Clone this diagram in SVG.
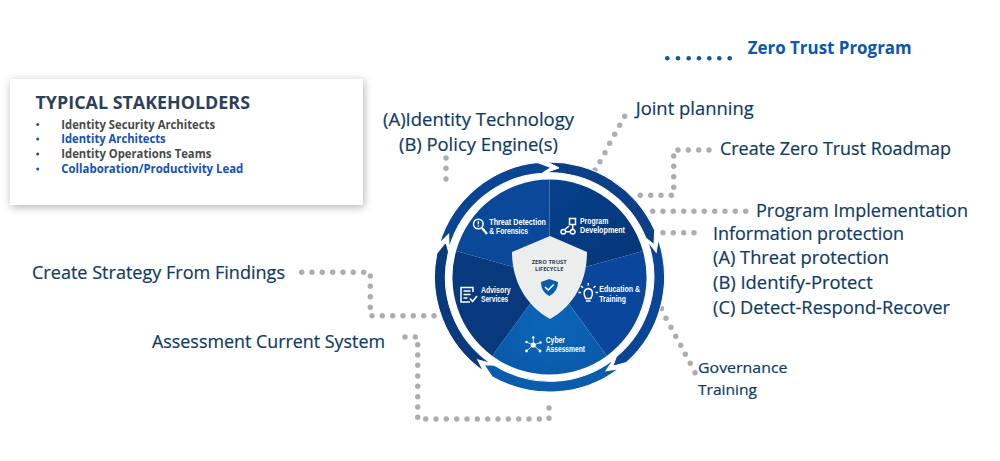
<svg xmlns="http://www.w3.org/2000/svg" width="1000" height="461" viewBox="0 0 1000 461">
<defs>
<filter id="sh" x="-5%" y="-15%" width="110%" height="130%"><feDropShadow dx="1" dy="2" stdDeviation="4" flood-color="#000" flood-opacity="0.3"/></filter>
<path id="seg" d="M-2-115L9.500-109.100L-3.600-104.400A104 104 0 0 1 96.400-39L104.500-32.500L105.100-46.800A115 115 0 0 0-2-115Z"/>
<radialGradient id="cy" gradientUnits="userSpaceOnUse" cx="549.500" cy="320" r="60"><stop offset="0" stop-color="#0b66b8"/><stop offset="1" stop-color="#0a5aab"/></radialGradient>
<linearGradient id="pg" x1="0" y1="0" x2="1" y2="1"><stop offset="0" stop-color="#06418c"/><stop offset="1" stop-color="#043574"/></linearGradient>
</defs>
<style>
text{font-family:"Open Sans","Noto Sans","Liberation Sans",sans-serif}
.l{font-size:18.5px;fill:#0f3a63;stroke:#0f3a63;stroke-width:.2px}
.d circle{fill:#adadb0;r:2.7px}
.b circle{fill:#0f57ad;r:2.3px}
.g{font-size:11.5px;font-weight:700;fill:#4a4a4a}
.h{font-size:11.5px;font-weight:700;fill:#1450b8}
.n{font-family:"Liberation Sans",sans-serif;font-size:9.5px;font-weight:700;fill:#fff}
.z{font-size:5.600px;font-weight:700;fill:#2c3e55}
.i{fill:none;stroke:#fff;stroke-width:1.500}
.s{stroke:#fff;stroke-width:1}
</style>
<rect width="1000" height="461" fill="#fff"/>

<g id="connectors">
<g id="c-legend" class="b"><circle cx="667.300" cy="58.300"/><circle cx="678" cy="58.300"/><circle cx="688.700" cy="58.300"/><circle cx="699" cy="58.300"/><circle cx="709.300" cy="58.300"/><circle cx="719.300" cy="58.300"/><circle cx="729.700" cy="58.300"/></g>
<g id="c-identity" class="d"><circle cx="446" cy="158"/><circle cx="446" cy="168.300"/><circle cx="446" cy="179"/></g>
<g id="c-joint" class="d"><circle cx="624.700" cy="116.300"/><circle cx="619.700" cy="125.300"/><circle cx="614.700" cy="134.300"/><circle cx="609.700" cy="143.300"/><circle cx="605" cy="152.700"/><circle cx="600" cy="161.700"/><circle cx="595" cy="170"/></g>
<g id="c-roadmap" class="d"><circle cx="709" cy="150"/><circle cx="698.700" cy="150"/><circle cx="688.300" cy="150"/><circle cx="678" cy="150"/><circle cx="673.700" cy="156"/><circle cx="673.700" cy="166.300"/><circle cx="673.700" cy="176.700"/><circle cx="673.700" cy="187.300"/><circle cx="671.300" cy="195.300"/><circle cx="661" cy="195.300"/><circle cx="650.700" cy="195.300"/><circle cx="640.300" cy="195.300"/></g>
<g id="c-implementation" class="d"><circle cx="652.700" cy="211.300"/><circle cx="663" cy="211.300"/><circle cx="673.300" cy="211.300"/><circle cx="683.700" cy="211.300"/><circle cx="694" cy="211.300"/><circle cx="704.300" cy="211.300"/><circle cx="714.700" cy="211.300"/><circle cx="725" cy="211.300"/><circle cx="735.300" cy="211.300"/><circle cx="745.700" cy="211.300"/></g>
<g id="c-information" class="d"><circle cx="663" cy="232.700"/><circle cx="673.300" cy="232.700"/><circle cx="683.700" cy="232.700"/><circle cx="694" cy="232.700"/></g>
<g id="c-governance" class="d"><circle cx="661.500" cy="308.500"/><circle cx="666" cy="318.200"/><circle cx="671" cy="327.200"/><circle cx="675.700" cy="336.200"/><circle cx="680.700" cy="345.300"/><circle cx="685.300" cy="354.300"/><circle cx="690.300" cy="363.300"/><circle cx="695" cy="372.700"/></g>
<g id="c-strategy" class="d"><circle cx="301.700" cy="272.300"/><circle cx="312" cy="272.300"/><circle cx="322.300" cy="272.300"/><circle cx="332.700" cy="272.300"/><circle cx="343" cy="272.300"/><circle cx="353.300" cy="272.300"/><circle cx="363.700" cy="272.300"/><circle cx="370.300" cy="276"/><circle cx="370.300" cy="286.300"/><circle cx="370.300" cy="296.700"/><circle cx="370.300" cy="307.300"/><circle cx="372" cy="315.700"/><circle cx="382.300" cy="315.700"/><circle cx="392.700" cy="315.700"/><circle cx="403" cy="315.700"/><circle cx="413.300" cy="315.700"/><circle cx="423.700" cy="315.700"/><circle cx="434" cy="315.700"/></g>
<g id="c-assessment" class="d"><circle cx="405" cy="337"/><circle cx="415.300" cy="337"/><circle cx="417.700" cy="344.700"/><circle cx="417.700" cy="355"/><circle cx="417.700" cy="365.300"/><circle cx="417.700" cy="376"/><circle cx="417.700" cy="386.300"/><circle cx="417.700" cy="396.700"/><circle cx="417.700" cy="407"/><circle cx="417.700" cy="417.300"/><circle cx="425.700" cy="419"/><circle cx="436" cy="419"/><circle cx="446.300" cy="419"/><circle cx="456.700" cy="419"/><circle cx="467" cy="419"/><circle cx="477.300" cy="419"/><circle cx="487.700" cy="419"/><circle cx="498" cy="419"/><circle cx="508.300" cy="419"/><circle cx="518.700" cy="419"/><circle cx="529" cy="419"/><circle cx="539.300" cy="419"/><circle cx="549" cy="418.300"/><circle cx="549" cy="408"/></g>
</g>

<g id="stakeholders">
<rect x="10" y="79" width="353" height="126" fill="#fff" filter="url(#sh)"/>
<text x="35.500" y="108.700" font-size="17.500" font-weight="700" fill="#2e3f58" textLength="214.500" lengthAdjust="spacingAndGlyphs">TYPICAL STAKEHOLDERS</text>
<circle cx="37.700" cy="124.500" r="1.500" fill="#4a4a4a"/><text class="g" x="61.300" y="128.700" textLength="153.700" lengthAdjust="spacingAndGlyphs">Identity Security Architects</text>
<circle cx="37.700" cy="139" r="1.500" fill="#1450b8"/><text class="h" x="61.300" y="143.300" textLength="104.400" lengthAdjust="spacingAndGlyphs">Identity Architects</text>
<circle cx="37.700" cy="154" r="1.500" fill="#4a4a4a"/><text class="g" x="61.300" y="158.300" textLength="150" lengthAdjust="spacingAndGlyphs">Identity Operations Teams</text>
<circle cx="37.700" cy="169" r="1.500" fill="#1450b8"/><text class="h" x="61.300" y="173.300" textLength="182" lengthAdjust="spacingAndGlyphs">Collaboration/Productivity Lead</text>
</g>

<g id="lifecycle">
<g id="ring" class="s">
<use href="#seg" transform="translate(549.500 277)" fill="#0c3f85"/>
<use href="#seg" transform="translate(549.500 277) rotate(72)" fill="#0a4598"/>
<use href="#seg" transform="translate(549.500 277) rotate(144)" fill="#0c5cae"/>
<use href="#seg" transform="translate(549.500 277) rotate(216)" fill="#0a3a7e"/>
<use href="#seg" transform="translate(549.500 277) rotate(288)" fill="#0a4595"/>
</g>
<g id="node-threat">
<path d="M549.500 277V179.500A97.500 97.500 0 0 0 456.100 251Z" fill="#0a4899"/>
<circle class="i" cx="478.300" cy="224" r="4.800"/><path d="M482 228l5 6" stroke="#fff" stroke-width="2.200" fill="none"/><path d="M478.300 221v3.500M478.300 225.500v1.200" stroke="#fff" stroke-width="1.200" fill="none"/>
<text class="n" x="489.300" y="225.300" textLength="56.700" lengthAdjust="spacingAndGlyphs">Threat Detection</text>
<text class="n" x="489.300" y="234.300" textLength="38.700" lengthAdjust="spacingAndGlyphs">&amp; Forensics</text>
</g>
<g id="node-program">
<path d="M549.500 277V179.500A97.500 97.500 0 0 1 642.900 251Z" fill="url(#pg)"/>
<path class="i" d="M569.500 218.500h6v6h-6zM572.700 224.500v5M565.500 231.700h5M569 226l-4 3.500"/><circle class="i" cx="563.300" cy="231.700" r="2.300"/><circle class="i" cx="572.700" cy="231.700" r="2.300"/>
<text class="n" x="580" y="224" textLength="28.300" lengthAdjust="spacingAndGlyphs">Program</text>
<text class="n" x="580" y="233" textLength="45" lengthAdjust="spacingAndGlyphs">Development</text>
</g>
<g id="node-education">
<path d="M549.500 277L642.900 251A97.500 97.500 0 0 1 606.800 355.900Z" fill="#0a479c"/>
<path class="i" d="M585.800 298.500C583 294 583.500 289 588.300 288.500C593 289 593.500 294 590.800 298.500ZM586 301h4.600M578.500 292.500h2.500M595.500 292.500h2.500M581 286l2 1.800M595.500 286l-2 1.800M588.300 283v2.500"/>
<text class="n" x="599.300" y="292.300" textLength="40.700" lengthAdjust="spacingAndGlyphs">Education &amp;</text>
<text class="n" x="599.300" y="301.700" textLength="26.700" lengthAdjust="spacingAndGlyphs">Training</text>
</g>
<g id="node-cyber">
<path d="M549.500 277L606.800 355.900A97.500 97.500 0 0 1 492.200 355.900Z" fill="url(#cy)"/>
<g fill="#fff"><circle cx="533.300" cy="345" r="2.600"/><circle cx="533.300" cy="337.500" r="1.200"/><circle cx="526.500" cy="342" r="1.200"/><circle cx="540.500" cy="342.500" r="1.200"/><circle cx="526.500" cy="351" r="1.400"/><circle cx="540" cy="351" r="1.400"/></g>
<path d="M533.300 345V337.500M533.300 345L526.500 342M533.300 345L540.500 342.500M533.300 345L526.500 351M533.300 345L540 351" stroke="#fff" stroke-width=".8" fill="none"/>
<text class="n" x="545.700" y="343.300" textLength="19.300" lengthAdjust="spacingAndGlyphs">Cyber</text>
<text class="n" x="545.700" y="352.300" textLength="39.300" lengthAdjust="spacingAndGlyphs">Assessment</text>
</g>
<g id="node-advisory">
<path d="M549.500 277L492.200 355.900A97.500 97.500 0 0 1 456.100 251Z" fill="#07397c"/>
<path class="i" d="M473 292V287.500H461V302H470M463.500 291h7M463.500 294.500h7M463.500 298h4M470 298.500l2.500 3 4.500-5.500"/>
<text class="n" x="481" y="293" textLength="29.700" lengthAdjust="spacingAndGlyphs">Advisory</text>
<text class="n" x="481" y="302" textLength="27.300" lengthAdjust="spacingAndGlyphs">Services</text>
</g>
<g id="node-shield">
<path d="M550 236L587 252C587 280 575 305 550 319C525 305 512 280 512 252Z" fill="#eceeee"/>
<text class="z" x="531.700" y="263.700" textLength="35" lengthAdjust="spacingAndGlyphs">ZERO TRUST</text>
<text class="z" x="535" y="271.300" textLength="28.300" lengthAdjust="spacingAndGlyphs">LIFECYCLE</text>
<path d="M549.300 279L558 282C558 288 555 293 549.300 296C543.500 293 541 288 541 282Z" fill="#0b5cad"/>
<path d="M545 287l3.200 3 5.500-5.500" fill="none" stroke="#fff" stroke-width="1.500"/>
</g>
</g>

<g id="labels">
<text x="747.700" y="54.300" font-size="18.500" font-weight="700" fill="#0e56ad" textLength="164" lengthAdjust="spacingAndGlyphs">Zero Trust Program</text>
<text class="l" x="383" y="126" textLength="191" lengthAdjust="spacingAndGlyphs">(A)Identity Technology</text>
<text class="l" x="399" y="151" textLength="159" lengthAdjust="spacingAndGlyphs">(B) Policy Engine(s)</text>
<text class="l" x="635.700" y="115" textLength="118" lengthAdjust="spacingAndGlyphs">Joint planning</text>
<text class="l" x="720" y="154.500" textLength="231" lengthAdjust="spacingAndGlyphs">Create Zero Trust Roadmap</text>
<text class="l" x="756" y="217.300" textLength="212" lengthAdjust="spacingAndGlyphs">Program Implementation</text>
<text class="l" x="713" y="239.700" textLength="191" lengthAdjust="spacingAndGlyphs">Information protection</text>
<text class="l" x="713" y="264" textLength="176" lengthAdjust="spacingAndGlyphs">(A) Threat protection</text>
<text class="l" x="713" y="288.700" textLength="159.700" lengthAdjust="spacingAndGlyphs">(B) Identify-Protect</text>
<text class="l" x="713" y="314" textLength="237" lengthAdjust="spacingAndGlyphs">(C) Detect-Respond-Recover</text>
<text class="l" x="698" y="372.700" style="font-size:15px" textLength="89.500" lengthAdjust="spacingAndGlyphs">Governance</text>
<text class="l" x="698" y="394.700" style="font-size:15px" textLength="59" lengthAdjust="spacingAndGlyphs">Training</text>
<text class="l" x="32" y="279" textLength="253" lengthAdjust="spacingAndGlyphs">Create Strategy From Findings</text>
<text class="l" x="152" y="348" textLength="233" lengthAdjust="spacingAndGlyphs">Assessment Current System</text>
</g>
</svg>
